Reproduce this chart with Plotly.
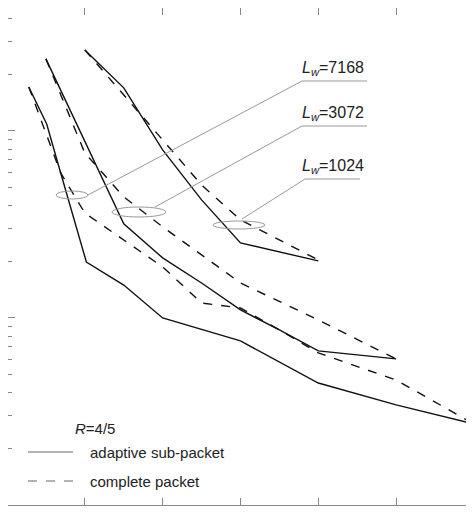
import numpy as np
import plotly.graph_objects as go

# x positions and log10 of y values
x_1024_solid = [1, 1.5, 2, 2.5, 3, 4]
y_1024_solid = [-0.567, -0.770, -1.102, -1.369, -1.599, -1.695]
x_1024_dash = [1, 2, 2.5, 3, 4]
y_1024_dash = [-0.567, -1.048, -1.289, -1.476, -1.690]

x_3072_solid = [0.5, 1, 1.5, 2, 2.5, 3, 3.5, 4, 5]
y_3072_solid = [-0.615, -1.059, -1.497, -1.679, -1.813, -1.957, -2.064, -2.176, -2.219]
x_3072_dash = [0.5, 1, 1.5, 2, 3, 4, 5]
y_3072_dash = [-0.615, -1.118, -1.353, -1.513, -1.813, -2.011, -2.219]

x_7168_solid = [0.28, 0.51, 0.69, 1.02, 1.5, 2, 3, 4, 5, 6]
y_7168_solid = [-0.765, -0.963, -1.225, -1.701, -1.824, -2.0, -2.123, -2.348, -2.465, -2.567]
x_7168_dash = [0.28, 0.69, 1, 1.5, 2, 2.5, 3, 3.5, 4, 5, 6]
y_7168_dash = [-0.765, -1.225, -1.439, -1.583, -1.727, -1.920, -1.947, -2.064, -2.187, -2.332, -2.567]

labels = ['<i>L</i><sub><i>w</i></sub>=7168', '<i>L</i><sub><i>w</i></sub>=3072',
          '<i>L</i><sub><i>w</i></sub>=1024']
legend_names = ['adaptive sub-packet', 'complete packet']

fig = go.Figure()
series = [(x_1024_solid, y_1024_solid, 'solid'), (x_1024_dash, y_1024_dash, 'dash'),
          (x_3072_solid, y_3072_solid, 'solid'), (x_3072_dash, y_3072_dash, 'dash'),
          (x_7168_solid, y_7168_solid, 'solid'), (x_7168_dash, y_7168_dash, 'dash')]
for xs, ys, d in series:
    fig.add_scatter(x=xs, y=10 ** np.array(ys), mode='lines', showlegend=False,
                    line=dict(color='#111', width=1.4, dash=d))

W, H = 466, 497
def px(x, y):
    return (x - 8) / W, 1 - (y - 8) / H

shapes = []
# ellipses + leader lines
for (cx, cy, rw, rh), path in [((72, 195, 16, 4), [(88, 195), (302, 81), (367, 81)]),
                               ((139, 212, 27, 5), [(155, 207), (302, 126), (367, 126)]),
                               ((239, 225, 26, 4), [(242, 219), (305, 179), (360, 179)])]:
    x0, y0 = px(cx - rw, cy - rh)
    x1, y1 = px(cx + rw, cy + rh)
    shapes.append(dict(type='circle', xref='paper', yref='paper', x0=x0, x1=x1, y0=y0, y1=y1,
                       line=dict(color='#999', width=1)))
    pts = [px(a, b) for a, b in path]
    d = 'M ' + ' L '.join(f'{a},{b}' for a, b in pts)
    shapes.append(dict(type='path', xref='paper', yref='paper', path=d,
                       line=dict(color='#999', width=1)))

# hand-made legend
for name, ly, d in zip(legend_names, [452, 481], ['solid', 'dash']):
    x0, y0 = px(28, ly)
    x1, _ = px(73, ly)
    shapes.append(dict(type='line', xref='paper', yref='paper', x0=x0, x1=x1, y0=y0, y1=y0,
                       line=dict(color='#666', width=1, dash=d)))
    tx, ty = px(88, ly)
    fig.add_annotation(x=tx, y=ty, xref='paper', yref='paper', text=name, showarrow=False,
                       xanchor='left', yanchor='middle', font=dict(size=15))
tx, ty = px(73, 428)
fig.add_annotation(x=tx, y=ty, xref='paper', yref='paper', text='<i>R</i>=4/5', showarrow=False,
                   xanchor='left', yanchor='middle', font=dict(size=15))
fig.update_layout(shapes=shapes)

for lab, (lx, ly) in zip(labels, [(366, 80), (366, 125), (366, 178)]):
    ax, ay = px(lx, ly)
    fig.add_annotation(x=ax, y=ay, xref='paper', yref='paper', text=lab, showarrow=False,
                       xanchor='right', yanchor='bottom', font=dict(size=16))

fig.update_layout(
    width=466, height=506, margin=dict(l=0, r=0, t=0, b=9),
    paper_bgcolor='white', plot_bgcolor='white', showlegend=False,
    font=dict(family='Liberation Sans', size=14, color='#222'),
)
fig.update_xaxes(range=[0.013, 6], dtick=1, showticklabels=False, showgrid=False, zeroline=False,
                 ticks='inside', ticklen=7, tickcolor='#888', showline=True, linecolor='#888',
                 mirror='ticks')
fig.update_yaxes(type='log', range=[-3.0, -0.343], dtick=1, showticklabels=False, showgrid=False,
                 ticks='inside', ticklen=7, tickcolor='#888', showline=True, linecolor='#888',
                 mirror='ticks', minor=dict(ticks='inside', ticklen=4, tickcolor='#888'))

fig.write_html('out.html')
